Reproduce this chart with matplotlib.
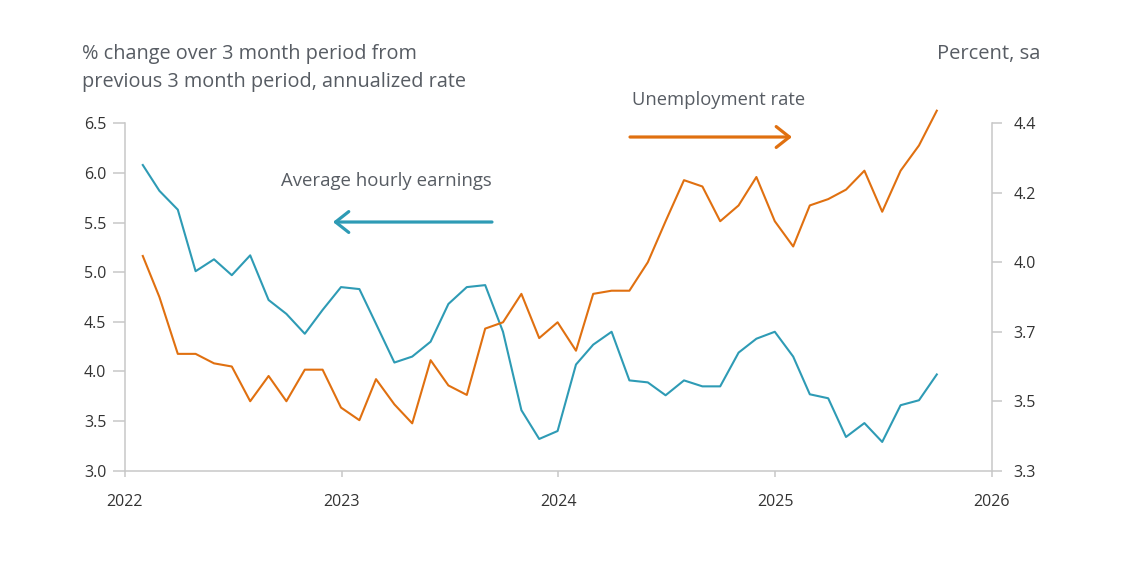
import numpy as np
import pandas as pd
import matplotlib
matplotlib.use('Agg')
import matplotlib.pyplot as plt
import matplotlib.dates as mdates
from matplotlib.ticker import FormatStrFormatter

# monthly data, Jan 2022 - Sep 2025
dates = pd.date_range('2022-01-31', periods=45, freq='ME')

# average hourly earnings, % chg 3m over previous 3m, annualized (left axis)
ahe = [6.08, 5.82, 5.63, 5.01, 5.13, 4.97, 5.17, 4.72, 4.58, 4.38, 4.62, 4.85,
       4.83, 4.48, 4.09, 4.15, 4.30, 4.68, 4.85, 4.87, 4.40, 3.61, 3.32, 3.40,
       4.07, 4.27, 4.40, 3.91, 3.89, 3.76, 3.91, 3.85, 3.85, 4.19, 4.33, 4.40,
       4.15, 3.77, 3.73, 3.34, 3.48, 3.29, 3.66, 3.71, 3.97]

# unemployment rate, percent sa (right axis)
unemp = [3.98, 3.85, 3.67, 3.67, 3.64, 3.63, 3.52, 3.60, 3.52, 3.62, 3.62, 3.50,
         3.46, 3.59, 3.51, 3.45, 3.65, 3.57, 3.54, 3.75, 3.77, 3.86, 3.72, 3.77,
         3.68, 3.86, 3.87, 3.87, 3.96, 4.09, 4.22, 4.20, 4.09, 4.14, 4.23, 4.09,
         4.01, 4.14, 4.16, 4.19, 4.25, 4.12, 4.25, 4.33, 4.44]

left_ticks = [3.0, 3.5, 4.0, 4.5, 5.0, 5.5, 6.0, 6.5]
years = ['2022', '2023', '2024', '2025', '2026']

teal = '#2E9BB5'
orange = '#E07010'
grey = '#C8C8C8'
txt = '#575C63'

plt.rcParams['font.family'] = ['Open Sans', 'DejaVu Sans']

fig = plt.figure(figsize=(11.27, 5.67), dpi=100)
ax = fig.add_axes([0.1109, 0.1698, 0.7693, 0.6127])
ax2 = ax.twinx()

ax.plot(dates, ahe, color=teal, lw=1.5)
ax2.plot(dates, unemp, color=orange, lw=1.5, clip_on=False)

ax.set_xlim(pd.Timestamp('2022-01-01'), pd.Timestamp('2026-01-01'))
ax.set_ylim(3.0, 6.5)
ax.set_yticks(left_ticks)
ax.yaxis.set_major_formatter(FormatStrFormatter('%.1f'))
ax.set_xticks([pd.Timestamp(y + '-01-01') for y in years])
ax.xaxis.set_major_formatter(mdates.DateFormatter('%Y'))

ax2.set_ylim(3.3, 4.4)
ax2.set_yticks(np.linspace(3.3, 4.4, 6))
ax2.yaxis.set_major_formatter(FormatStrFormatter('%.1f'))

for a in (ax, ax2):
    for s in a.spines.values():
        s.set_color(grey)
        s.set_linewidth(1.1)
    a.spines['top'].set_visible(False)
ax.spines['right'].set_visible(False)
ax2.spines['left'].set_visible(False)
ax2.spines['bottom'].set_visible(False)

ax.tick_params(axis='y', length=8.5, width=1.1, color=grey, labelcolor='#333333',
               labelsize=11.5, pad=5)
ax.tick_params(axis='x', length=4, width=1.1, color=grey, labelcolor='#333333',
               labelsize=11.5, pad=13)
ax2.tick_params(axis='y', length=7.5, width=1.1, color=grey, labelcolor='#333333',
                labelsize=11.5, pad=8)

# titles
fig.text(0.0728, 0.880, '% change over 3 month period from\nprevious 3 month period, annualized rate',
         fontsize=14.3, color=txt, ha='left', va='center', linespacing=1.55)
fig.text(0.9234, 0.9048, 'Percent, sa', fontsize=14.5, color=txt, ha='right', va='center')

# series labels with arrows pointing to their axis
ax.text(0.4233, 0.834, 'Average hourly earnings', transform=ax.transAxes,
        fontsize=13.4, color=txt, ha='right', va='center')
ax.annotate('', xy=(0.2399, 0.7159), xytext=(0.4233, 0.7159), xycoords='axes fraction',
            arrowprops=dict(arrowstyle='->,head_length=0.95,head_width=0.75', color=teal,
                            lw=2.3, shrinkA=0, shrinkB=0, capstyle='round'))
ax.text(0.5848, 1.067, 'Unemployment rate', transform=ax.transAxes,
        fontsize=13.2, color=txt, ha='left', va='center')
ax.annotate('', xy=(0.7693, 0.9606), xytext=(0.5825, 0.9606), xycoords='axes fraction',
            arrowprops=dict(arrowstyle='->,head_length=0.95,head_width=0.75', color=orange,
                            lw=2.3, shrinkA=0, shrinkB=0, capstyle='round'))

fig.savefig('out.png', dpi=100)
